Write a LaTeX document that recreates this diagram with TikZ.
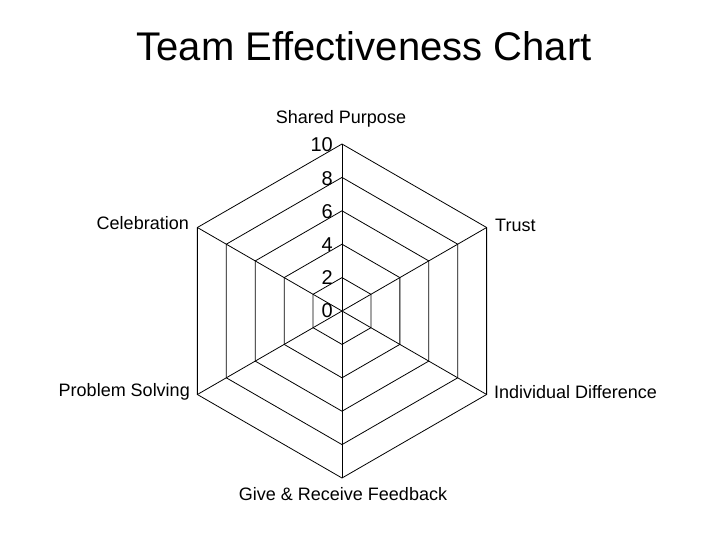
\documentclass[tikz,border=0pt]{standalone}
\usepackage{fontspec}
\setmainfont{Liberation Sans}
\usetikzlibrary{calc}
\begin{document}
\begin{tikzpicture}[x=1pt,y=-1pt,
  lbl/.style={font=\fontsize{18}{20}\selectfont, inner sep=0pt},
  num/.style={font=\fontsize{20}{22}\selectfont, inner sep=0pt, anchor=east},
  web/.style={draw=black, line width=0.8pt}]
\useasboundingbox[fill=white] (0,0) rectangle (728,546);
\node[font=\fontsize{40}{44}\selectfont, inner sep=0pt] (title) at (364,46) {Team Effectiveness Chart};
\coordinate (c) at (342,311);
\foreach \r in {33.4,66.8,100.2,133.6,167}{
  \draw[web] ($(c)+(0,-\r)$) \foreach \a in {30,-30,-90,-150,150}{ -- ($(c)+({\r*cos(\a)},{-\r*sin(\a)})$)} -- cycle;
}
\foreach \a/\n in {90/a1,30/a2,-30/a3,-90/a4,-150/a5,150/a6}{
  \coordinate (\n) at ($(c)+({167*cos(\a)},{-167*sin(\a)})$);
  \draw[web] (c) -- (\n);
}
\foreach \v [count=\i from 0] in {0,2,4,6,8,10}{
  \node[num] (n\v) at (333,{311-33.2*\i}) {\v};
}
\node[lbl] (l1) at (341,119) {Shared Purpose};
\node[lbl,anchor=west] (l2) at (495,225) {Trust};
\node[lbl,anchor=west] (l3) at (494,392) {Individual Difference};
\node[lbl] (l4) at (343,494) {Give \& Receive Feedback};
\node[lbl,anchor=east] (l5) at (190,392) {Problem Solving};
\node[lbl,anchor=east] (l6) at (189,223) {Celebration};
\end{tikzpicture}
\end{document}
